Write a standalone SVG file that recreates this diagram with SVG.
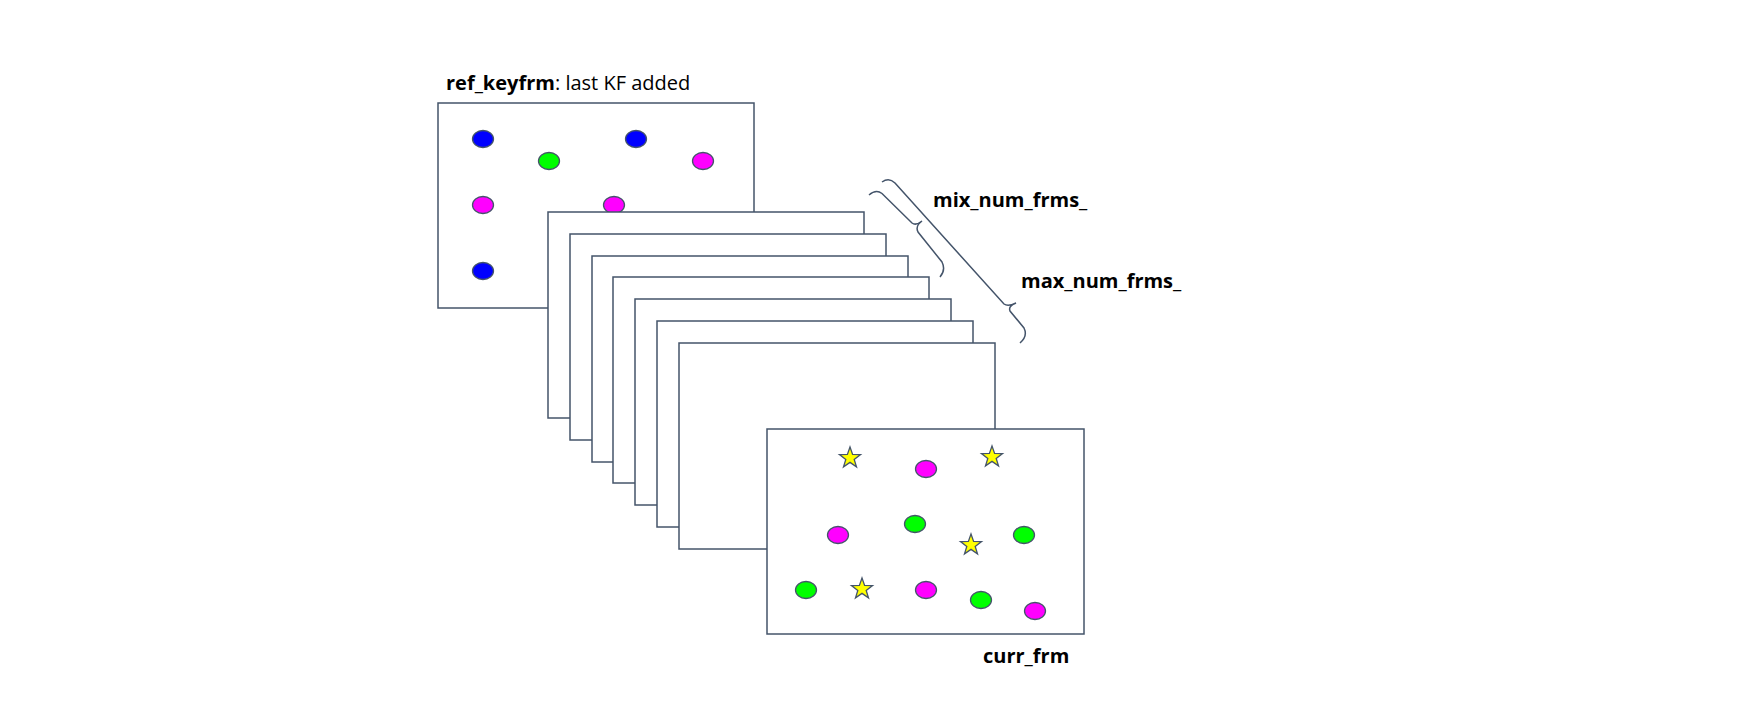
<svg xmlns="http://www.w3.org/2000/svg" width="1748" height="715" viewBox="0 0 1748 715">
<style>
.fr{fill:#fff;stroke:#44546a;stroke-width:1.5}
.dot{stroke:#44546a;stroke-width:1.3}
.b{fill:#0000ff}.g{fill:#00ff00}.m{fill:#ff00ff}
.st{fill:#ffff00;stroke:#44546a;stroke-width:1.3}
.br{fill:none;stroke:#44546a;stroke-width:1.5}
text{font-family:"Open Sans","Noto Sans","Liberation Sans",sans-serif;font-size:20px;fill:#000}
.bd{font-weight:bold}
</style>
<defs>
<polygon id="star" points="0,-11 2.6,-3.6 10.5,-3.4 4.2,1.4 6.5,8.9 0,4.4 -6.5,8.9 -4.2,1.4 -10.5,-3.4 -2.6,-3.6"/>
</defs>
<rect width="1748" height="715" fill="#fff"/>
<g id="ref_keyfrm">
<text x="446" y="90"><tspan class="bd">ref_keyfrm</tspan>: last KF added</text>
<rect class="fr" x="438" y="103" width="316" height="205"/>
<ellipse class="dot b" cx="483" cy="139" rx="10.5" ry="8.5"/>
<ellipse class="dot b" cx="636" cy="139" rx="10.5" ry="8.5"/>
<ellipse class="dot g" cx="549" cy="161" rx="10.5" ry="8.5"/>
<ellipse class="dot m" cx="703" cy="161" rx="10.5" ry="8.5"/>
<ellipse class="dot m" cx="483" cy="205" rx="10.5" ry="8.5"/>
<ellipse class="dot m" cx="614" cy="205" rx="10.5" ry="8.5"/>
<ellipse class="dot b" cx="483" cy="271" rx="10.5" ry="8.5"/>
</g>
<g id="frame_stack">
<rect class="fr" x="548" y="212" width="316" height="206"/>
<rect class="fr" x="570" y="234" width="316" height="206"/>
<rect class="fr" x="592" y="256" width="316" height="206"/>
<rect class="fr" x="613" y="277" width="316" height="206"/>
<rect class="fr" x="635" y="299" width="316" height="206"/>
<rect class="fr" x="657" y="321" width="316" height="206"/>
<rect class="fr" x="679" y="343" width="316" height="206"/>
</g>
<g id="curr_frm">
<rect class="fr" x="767" y="429" width="317" height="205"/>
<use href="#star" class="st" x="850" y="458"/>
<use href="#star" class="st" x="992" y="457"/>
<use href="#star" class="st" x="971" y="545"/>
<use href="#star" class="st" x="862" y="589"/>
<ellipse class="dot m" cx="926" cy="469" rx="10.5" ry="8.5"/>
<ellipse class="dot m" cx="838" cy="535" rx="10.5" ry="8.5"/>
<ellipse class="dot g" cx="915" cy="524" rx="10.5" ry="8.5"/>
<ellipse class="dot g" cx="1024" cy="535" rx="10.5" ry="8.5"/>
<ellipse class="dot g" cx="806" cy="590" rx="10.5" ry="8.5"/>
<ellipse class="dot m" cx="926" cy="590" rx="10.5" ry="8.5"/>
<ellipse class="dot g" cx="981" cy="600" rx="10.5" ry="8.5"/>
<ellipse class="dot m" cx="1035" cy="611" rx="10.5" ry="8.5"/>
<text class="bd" x="983" y="663">curr_frm</text>
</g>
<g id="braces">
<path class="br" d="M869,195 Q876,189 882,193.5 L912,223 Q916,226 922,221 Q915,226 918,232 L942,262 Q946,270 940,277"/>
<path class="br" d="M882,182 Q889,177 895,183 L1004,304 Q1008,307 1016,303 Q1008,306 1010,311 L1024,328 Q1028,336 1020,343"/>
<text class="bd" x="933" y="207">mix_num_frms_</text>
<text class="bd" x="1021" y="288">max_num_frms_</text>
</g>
</svg>
